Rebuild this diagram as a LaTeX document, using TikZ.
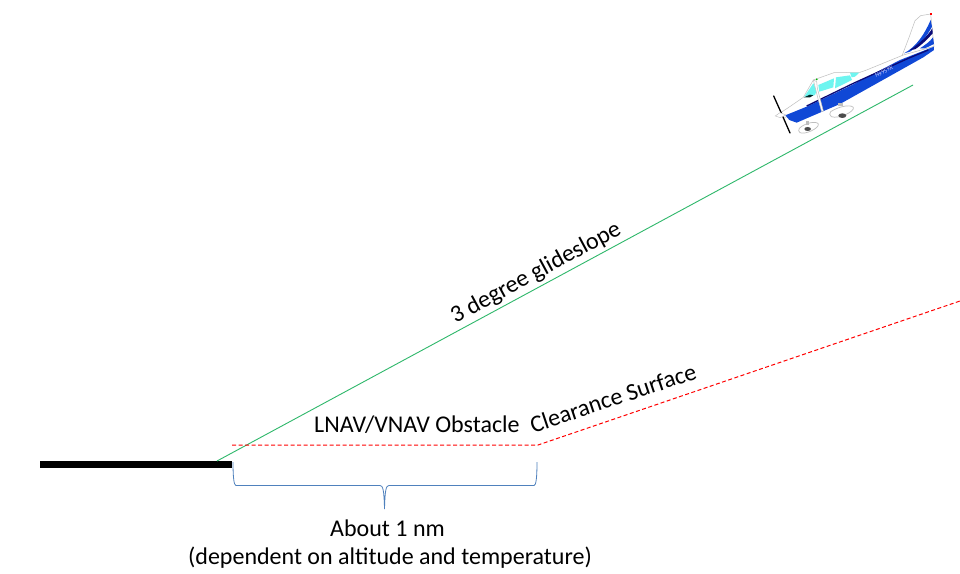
\documentclass[tikz,border=0pt]{standalone}
\usepackage{fontspec}
\setmainfont{Carlito}
\definecolor{glide}{RGB}{46,184,106}
\definecolor{brace}{RGB}{79,129,189}
\definecolor{planeblue}{RGB}{16,72,214}
\definecolor{planenavy}{RGB}{10,10,120}
\definecolor{planecyan}{RGB}{110,245,240}
\definecolor{planeline}{RGB}{190,190,190}
\tikzset{
  lbl/.style={font=\fontsize{24}{28}\selectfont, inner sep=0pt, text=black},
  dashline/.style={red, dash pattern=on 4pt off 2.5pt, line width=1pt},
  bracepath/.style={brace, line width=0.8pt},
  pw/.style={fill=white, draw=planeline, line width=0.5pt},
}
\begin{document}
\begin{tikzpicture}[x=1pt,y=-1pt]
\useasboundingbox (0,0) rectangle (960,573);
\fill[white] (0,0) rectangle (960,573);
\coordinate (rwyL) at (40,464.5);
\coordinate (rwyR) at (232,464.5);
\coordinate (gsB) at (217,461);
\coordinate (gsT) at (913,85);
\coordinate (dashL) at (232,445);
\coordinate (dashM) at (538,445);
\coordinate (dashR) at (960,301);
\draw[black, line width=7pt] (rwyL) -- (rwyR);
\draw[glide, line width=0.9pt] (gsB) -- (gsT);
\draw[dashline] (dashL) -- (dashM) -- (dashR);
\draw[bracepath] (233,462) .. controls (233,478) and (234,485.5) .. (236,485.5)
  -- (380,485.5) .. controls (383,485.5) and (384,490) .. (384.5,509)
  .. controls (385,490) and (386,485.5) .. (389,485.5)
  -- (534,485.5) .. controls (536,485.5) and (537,478) .. (537,462);
\node[lbl, rotate=28.4] (gslabel) at (536,273) {3 degree glideslope};
\node[lbl, anchor=west] (lnav) at (314,424.5) {LNAV/VNAV Obstacle};
\node[lbl, rotate=18.5] (clear) at (613,398) {Clearance Surface};
\node[lbl] (about) at (387.5,528.5) {About 1 nm};
\node[lbl] (dep) at (390,557.5) {(dependent on altitude and temperature)};
\begin{scope}[shift={(760,0)}, x=0.3333pt, y=-0.3333pt]
  \draw[pw] (425,170) -- (448,110) -- (465,62) -- (482,47) -- (512,42) -- (522,140) -- (500,145) -- cycle;
  \fill[planeblue] (432,160) .. controls (470,140) and (495,100) .. (512,60) -- (516,80) .. controls (500,110) and (480,135) .. (450,155) -- cycle;
  \fill[planenavy] (450,150) .. controls (480,130) and (505,105) .. (517,85) -- (518,100) .. controls (500,120) and (485,135) .. (465,148) -- cycle;
  \fill[planeblue] (480,145) .. controls (495,135) and (510,125) .. (519,112) -- (522,132) -- (495,145) -- cycle;
  \fill[red] (509,39) rectangle (516,45);
  \draw[pw] (48,347) -- (82,325) -- (130,292) -- (160,240) -- (222,218) -- (300,217) -- (320,210) -- (430,165) -- (520,140) -- (520,148) -- (110,340) -- (75,352) -- cycle;
  \fill[planeblue] (76,346) -- (140,320) -- (270,258) -- (420,180) -- (522,140) -- (522,150) -- (490,172) -- (240,312) -- (110,368) -- (88,360) -- cycle;
  \draw[planenavy, line width=1.3pt] (140,318) -- (280,250) -- (445,175) -- (505,150);
  \fill[planecyan] (133,290) -- (160,250) -- (170,272) -- (165,285) -- (150,290) -- cycle;
  \fill[planecyan] (175,255) -- (222,235) -- (220,262) -- (178,275) -- cycle;
  \fill[planecyan] (228,232) -- (270,226) -- (276,240) -- (225,265) -- cycle;
  \fill[planecyan] (270,218) -- (298,218) -- (285,230) -- (275,232) -- cycle;
  \fill[black!70!teal] (132,292) -- (150,284) -- (160,286) -- (150,292) -- cycle;
  \draw[pw] (160,240) -- (165,260) -- (175,300) -- (185,335) -- (190,333) -- (172,265) -- (170,245) -- cycle;
  \fill[green!70!black] (170,238) circle (3);
  \node[font=\fontsize{6}{6}\selectfont, text=white!80!blue, rotate=28, inner sep=0pt] (reg) at (372,215) {N9959X};
  \draw[planeline, line width=0.7pt] (212,335) .. controls (235,320) and (270,312) .. (280,322) .. controls (285,335) and (235,358) .. (214,350) .. controls (208,345) and (208,340) .. (212,335) -- cycle;
  \fill[black!70] (247,347) ellipse (12 and 7);
  \fill[planeline] (235,310) rectangle (250,318);
  \draw[planeline, line width=0.7pt] (118,385) .. controls (135,368) and (170,362) .. (175,372) .. controls (178,385) and (135,405) .. (120,398) .. controls (115,395) and (115,390) .. (118,385) -- cycle;
  \fill[black!70] (143,387) ellipse (10 and 6);
  \fill[planeline] (137,362) rectangle (147,375);
  \draw[black, line width=1.3pt, line cap=round] (41,288) -- (62,335) -- (90,399);
  \fill[white, draw=planeline] (46,348) -- (60,338) -- (78,345) -- (60,353) -- cycle;
\end{scope}
\end{tikzpicture}
\end{document}
